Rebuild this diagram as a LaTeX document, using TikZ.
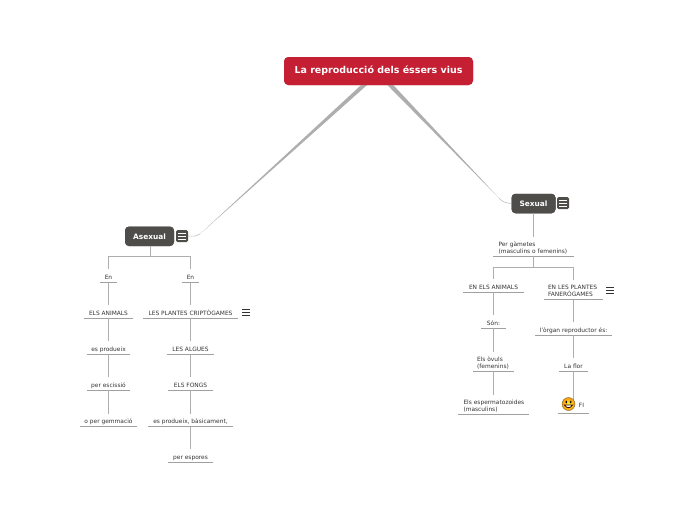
\documentclass[tikz,border=0pt]{standalone}
\usepackage{fontspec}
\setmainfont{DejaVu Sans}
\usetikzlibrary{calc}
\definecolor{rootred}{HTML}{C41F33}
\definecolor{darkbox}{HTML}{4E4D4A}
\definecolor{ink}{HTML}{333333}
\definecolor{wire}{HTML}{AEAEAE}
\definecolor{rule}{HTML}{A0A0A0}
\newcommand\twol[3]{\makebox[#3][l]{\rlap{\raisebox{7.3pt}{#1}}#2}}
\tikzset{
  x=1pt,y=-1pt,
  rootbox/.style={fill=rootred,rounded corners=4.5pt,minimum width=189pt,minimum height=28pt,inner sep=0pt,text=white,font=\bfseries\fontsize{9.5}{11}\selectfont},
  topicbox/.style={fill=darkbox,rounded corners=4pt,minimum height=19.5pt,inner sep=0pt,text=white,font=\bfseries\fontsize{7.4}{9}\selectfont},
  menubox/.style={fill=darkbox,rounded corners=1.5pt,minimum size=12pt,inner sep=0pt},
  menuplain/.style={minimum size=10pt,inner sep=0pt},
  lab/.style={anchor=south,inner xsep=0pt,inner ysep=0pt,minimum width=#1,text height=10.2pt,text depth=2.6pt,text=ink,font=\fontsize{5.9}{7}\selectfont,
    append after command={(\tikzlastnode.south west) edge[rule line] (\tikzlastnode.south east)}},
  lab2/.style={lab=#1,text height=16.7pt},
  rule line/.style={draw=rule,line width=0.8pt},
  conn/.style={draw=wire,line width=1.3pt},
  taper/.style={fill=wire},
  thinwire/.style={draw=wire!80!white,line width=0.6pt},
}
\newcommand\menulines[2]{%
  \draw[#2,line width=0.6pt] ($(#1)+(-3.8,-2.8)$) -- ($(#1)+(3.8,-2.8)$) ($(#1)+(-3.8,0)$) -- ($(#1)+(3.8,0)$) ($(#1)+(-3.8,2.8)$) -- ($(#1)+(3.8,2.8)$);}
\begin{document}
\begin{tikzpicture}
\useasboundingbox (0,0) rectangle (697,520);
% connectors from the root (drawn first)
\node[rootbox] (root) at (378.5,71) {};
\node[topicbox,minimum width=49pt] (ases) at (149.5,236.3) {};
\node[topicbox,minimum width=44pt] (sex) at (533.5,203.5) {};
\node[menubox] (mA) at (182,236) {};
\node[menubox] (mS) at (563,203) {};
\coordinate (aj) at (200,234);
\coordinate (sj) at (499,198);
\fill[taper] ($(root.south)+(-16.5,-1)$) -- ($(root.south)+(-10.5,-1)$) -- (aj) -- cycle;
\fill[taper] ($(root.south)+(8,-1)$) -- ($(root.south)+(14,-1)$) -- (sj) -- cycle;
\draw[thinwire] (aj) .. controls ($(aj)+(-3,2.4)$) and ($(aj)+(-6,2.4)$) .. (mA.east);
\draw[thinwire] (sj) .. controls ($(sj)+(3,3.5)$) and ($(sj)+(6,5)$) .. (sex.west);
\node[rootbox] at (root) {La reproducció dels éssers vius};
\node[topicbox,minimum width=49pt] at (ases) {Asexual};
\node[topicbox,minimum width=44pt] at (sex) {Sexual};
\menulines{mA}{white}
\menulines{mS}{white}
% left branch
\node[lab=17pt] (en1) at (108.5,282.3) {En};
\node[lab=17pt] (en2) at (190.5,282.3) {En};
\node[lab=49pt] (anim) at (108.5,318.3) {ELS ANIMALS};
\node[lab=94pt] (crip) at (190.5,318.3) {LES PLANTES CRIPTÒGAMES};
\node[menuplain] (mC) at (246,312) {};
\menulines{mC}{ink}
\node[lab=43pt] (prod) at (108.5,354.3) {es produeix};
\node[lab=43pt] (esc) at (108.5,390.3) {per escissió};
\node[lab=57pt] (gem) at (108.5,426.7) {o per gemmació};
\node[lab=46pt] (alg) at (190.5,354.3) {LES ALGUES};
\node[lab=44pt] (fong) at (190.5,390.3) {ELS FONGS};
\node[lab=84pt] (bas) at (190.5,426.7) {es produeix, bàsicament,};
\node[lab=44pt] (esp) at (190.5,462.3) {per espores};
\coordinate (bA) at (150.5,256.5);
\draw[conn] (ases.south -| bA) -- (bA);
\draw[conn] (en1.north) |- (bA) -| (en2.north);
\draw[conn] (en1.south) -- (anim.north);
\draw[conn] (en2.south) -- (crip.north);
\draw[conn] (anim.south) -- (prod.north);
\draw[conn] (prod.south) -- (esc.north);
\draw[conn] (esc.south) -- (gem.north);
\draw[conn] (crip.south) -- (alg.north);
\draw[conn] (alg.south) -- (fong.north);
\draw[conn] (fong.south) -- (bas.north);
\draw[conn] (bas.south) -- (esp.north);
% right branch
\node[lab2=80pt] (gam) at (533.5,256.3) {\twol{Per gàmetes}{(masculins o femenins)}{70pt}};
\node[lab=60pt] (ea) at (493.5,292.3) {EN ELS ANIMALS};
\node[lab2=59pt] (ep) at (573.5,299.3) {\twol{EN LES PLANTES}{FANERÒGAMES}{51pt}};
\node[menuplain] (mF) at (610,290) {};
\menulines{mF}{ink}
\node[lab=24pt] (son) at (493.5,328.3) {Són:};
\node[lab2=40pt] (ovu) at (493.5,371.3) {\twol{Els òvuls}{(femenins)}{33pt}};
\node[lab2=70pt] (sper) at (493.5,414.7) {\twol{Els espermatozoides}{(masculins)}{60pt}};
\node[lab=77pt] (org) at (573.5,335.3) {l'òrgan reproductor és:};
\node[lab=29pt] (flor) at (573.5,371.3) {La flor};
\node[lab=31pt] (fi) at (573.5,413.3) {\hspace*{16pt}\raisebox{3pt}{FI}};
\coordinate (bS) at (533.5,267.5);
\draw[conn] (sex.south) -- (gam.north);
\draw[conn] (gam.south) -- (bS);
\draw[conn] (ea.north) |- (bS) -| (ep.north);
\draw[conn] (ea.south) -- (son.north);
\draw[conn] (son.south) -- (ovu.north);
\draw[conn] (ovu.south) -- (sper.north);
\draw[conn] (ep.south) -- (org.north);
\draw[conn] (org.south) -- (flor.north);
\draw[conn] (flor.south) -- ($(fi.north)+(0,3)$);
% smiley
\node[circle,minimum size=13pt,inner sep=0pt,draw=black!55!yellow!70!black,line width=0.4pt,inner color=yellow!80!white,outer color=orange!85!yellow] (smile) at (568.5,404) {};
\fill[black] ($(smile)+(-2.2,-2)$) ellipse (0.9 and 1.5) ($(smile)+(2.2,-2)$) ellipse (0.9 and 1.5);
\draw[black!80!red,line width=0.8pt,fill=white] ($(smile)+(-4,1)$) .. controls ($(smile)+(-2,4.6)$) and ($(smile)+(2,4.6)$) .. ($(smile)+(4,1)$) -- cycle;
\end{tikzpicture}
\end{document}
